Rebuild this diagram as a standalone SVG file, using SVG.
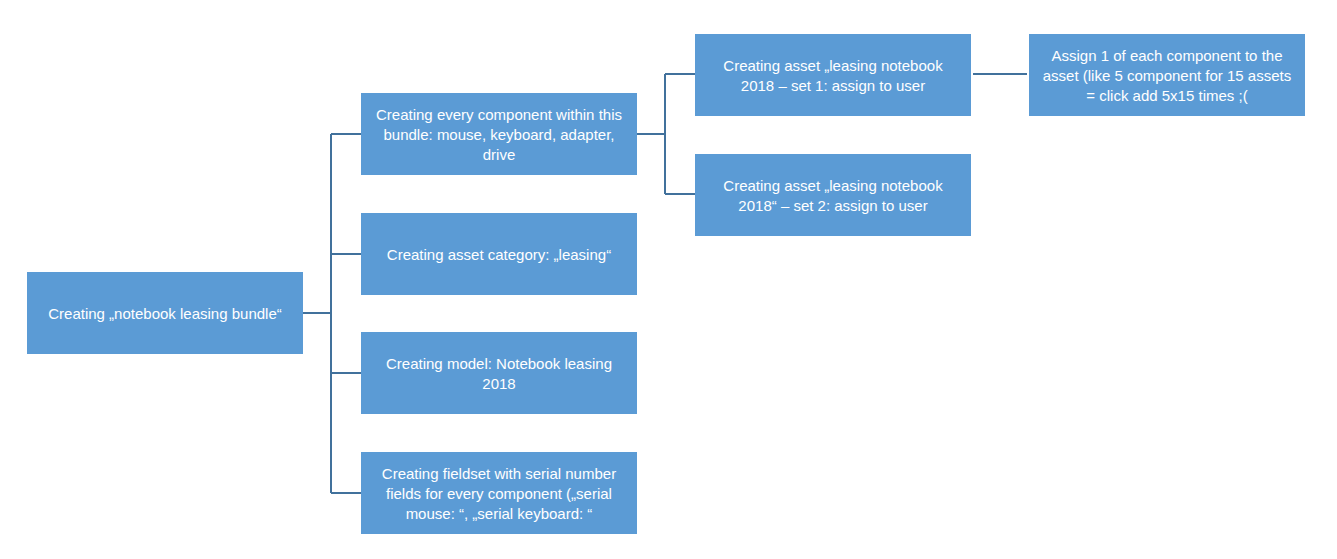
<svg xmlns="http://www.w3.org/2000/svg" width="1337" height="559" viewBox="0 0 1337 559">
<style>
.b{fill:#5b9bd5}
.t{fill:#fff;font-family:"Liberation Sans",Arial,sans-serif;font-size:15px;text-anchor:middle;dominant-baseline:central}
.c{stroke:#41719c;stroke-width:2;fill:none}
</style>
<rect width="1337" height="559" fill="#fff"/>
<g id="connectors">
<path class="c" d="M303,313H331M331,134V493M331,134H361M331,254H361M331,373H361M331,493H361"/>
<path class="c" d="M637,134H665M665,74V194M665,74H695M665,194H695"/>
<path class="c" d="M973,74H1027"/>
</g>
<g id="root"><rect class="b" x="27" y="272" width="276" height="82"/><text class="t" x="165" y="313">Creating „notebook leasing bundle“</text></g>
<g id="components"><rect class="b" x="361" y="93" width="276" height="82"/><text class="t" x="499" y="114">Creating every component within this</text><text class="t" x="499" y="134">bundle: mouse, keyboard, adapter,</text><text class="t" x="499" y="154">drive</text></g>
<g id="category"><rect class="b" x="361" y="213" width="276" height="82"/><text class="t" x="499" y="254">Creating asset category: „leasing“</text></g>
<g id="model"><rect class="b" x="361" y="332" width="276" height="82"/><text class="t" x="499" y="363">Creating model: Notebook leasing</text><text class="t" x="499" y="383">2018</text></g>
<g id="fieldset"><rect class="b" x="361" y="452" width="276" height="82"/><text class="t" x="499" y="473">Creating fieldset with serial number</text><text class="t" x="499" y="493">fields for every component („serial</text><text class="t" x="499" y="513">mouse: “, „serial keyboard: “</text></g>
<g id="set1"><rect class="b" x="695" y="34" width="276" height="82"/><text class="t" x="833" y="65">Creating asset „leasing notebook</text><text class="t" x="833" y="85">2018 – set 1: assign to user</text></g>
<g id="set2"><rect class="b" x="695" y="154" width="276" height="82"/><text class="t" x="833" y="185">Creating asset „leasing notebook</text><text class="t" x="833" y="205">2018“ – set 2: assign to user</text></g>
<g id="assign"><rect class="b" x="1029" y="34" width="276" height="82"/><text class="t" x="1167" y="55">Assign 1 of each component to the</text><text class="t" x="1167" y="75">asset (like 5 component for 15 assets</text><text class="t" x="1167" y="95">= click add 5x15 times ;(</text></g>
</svg>
